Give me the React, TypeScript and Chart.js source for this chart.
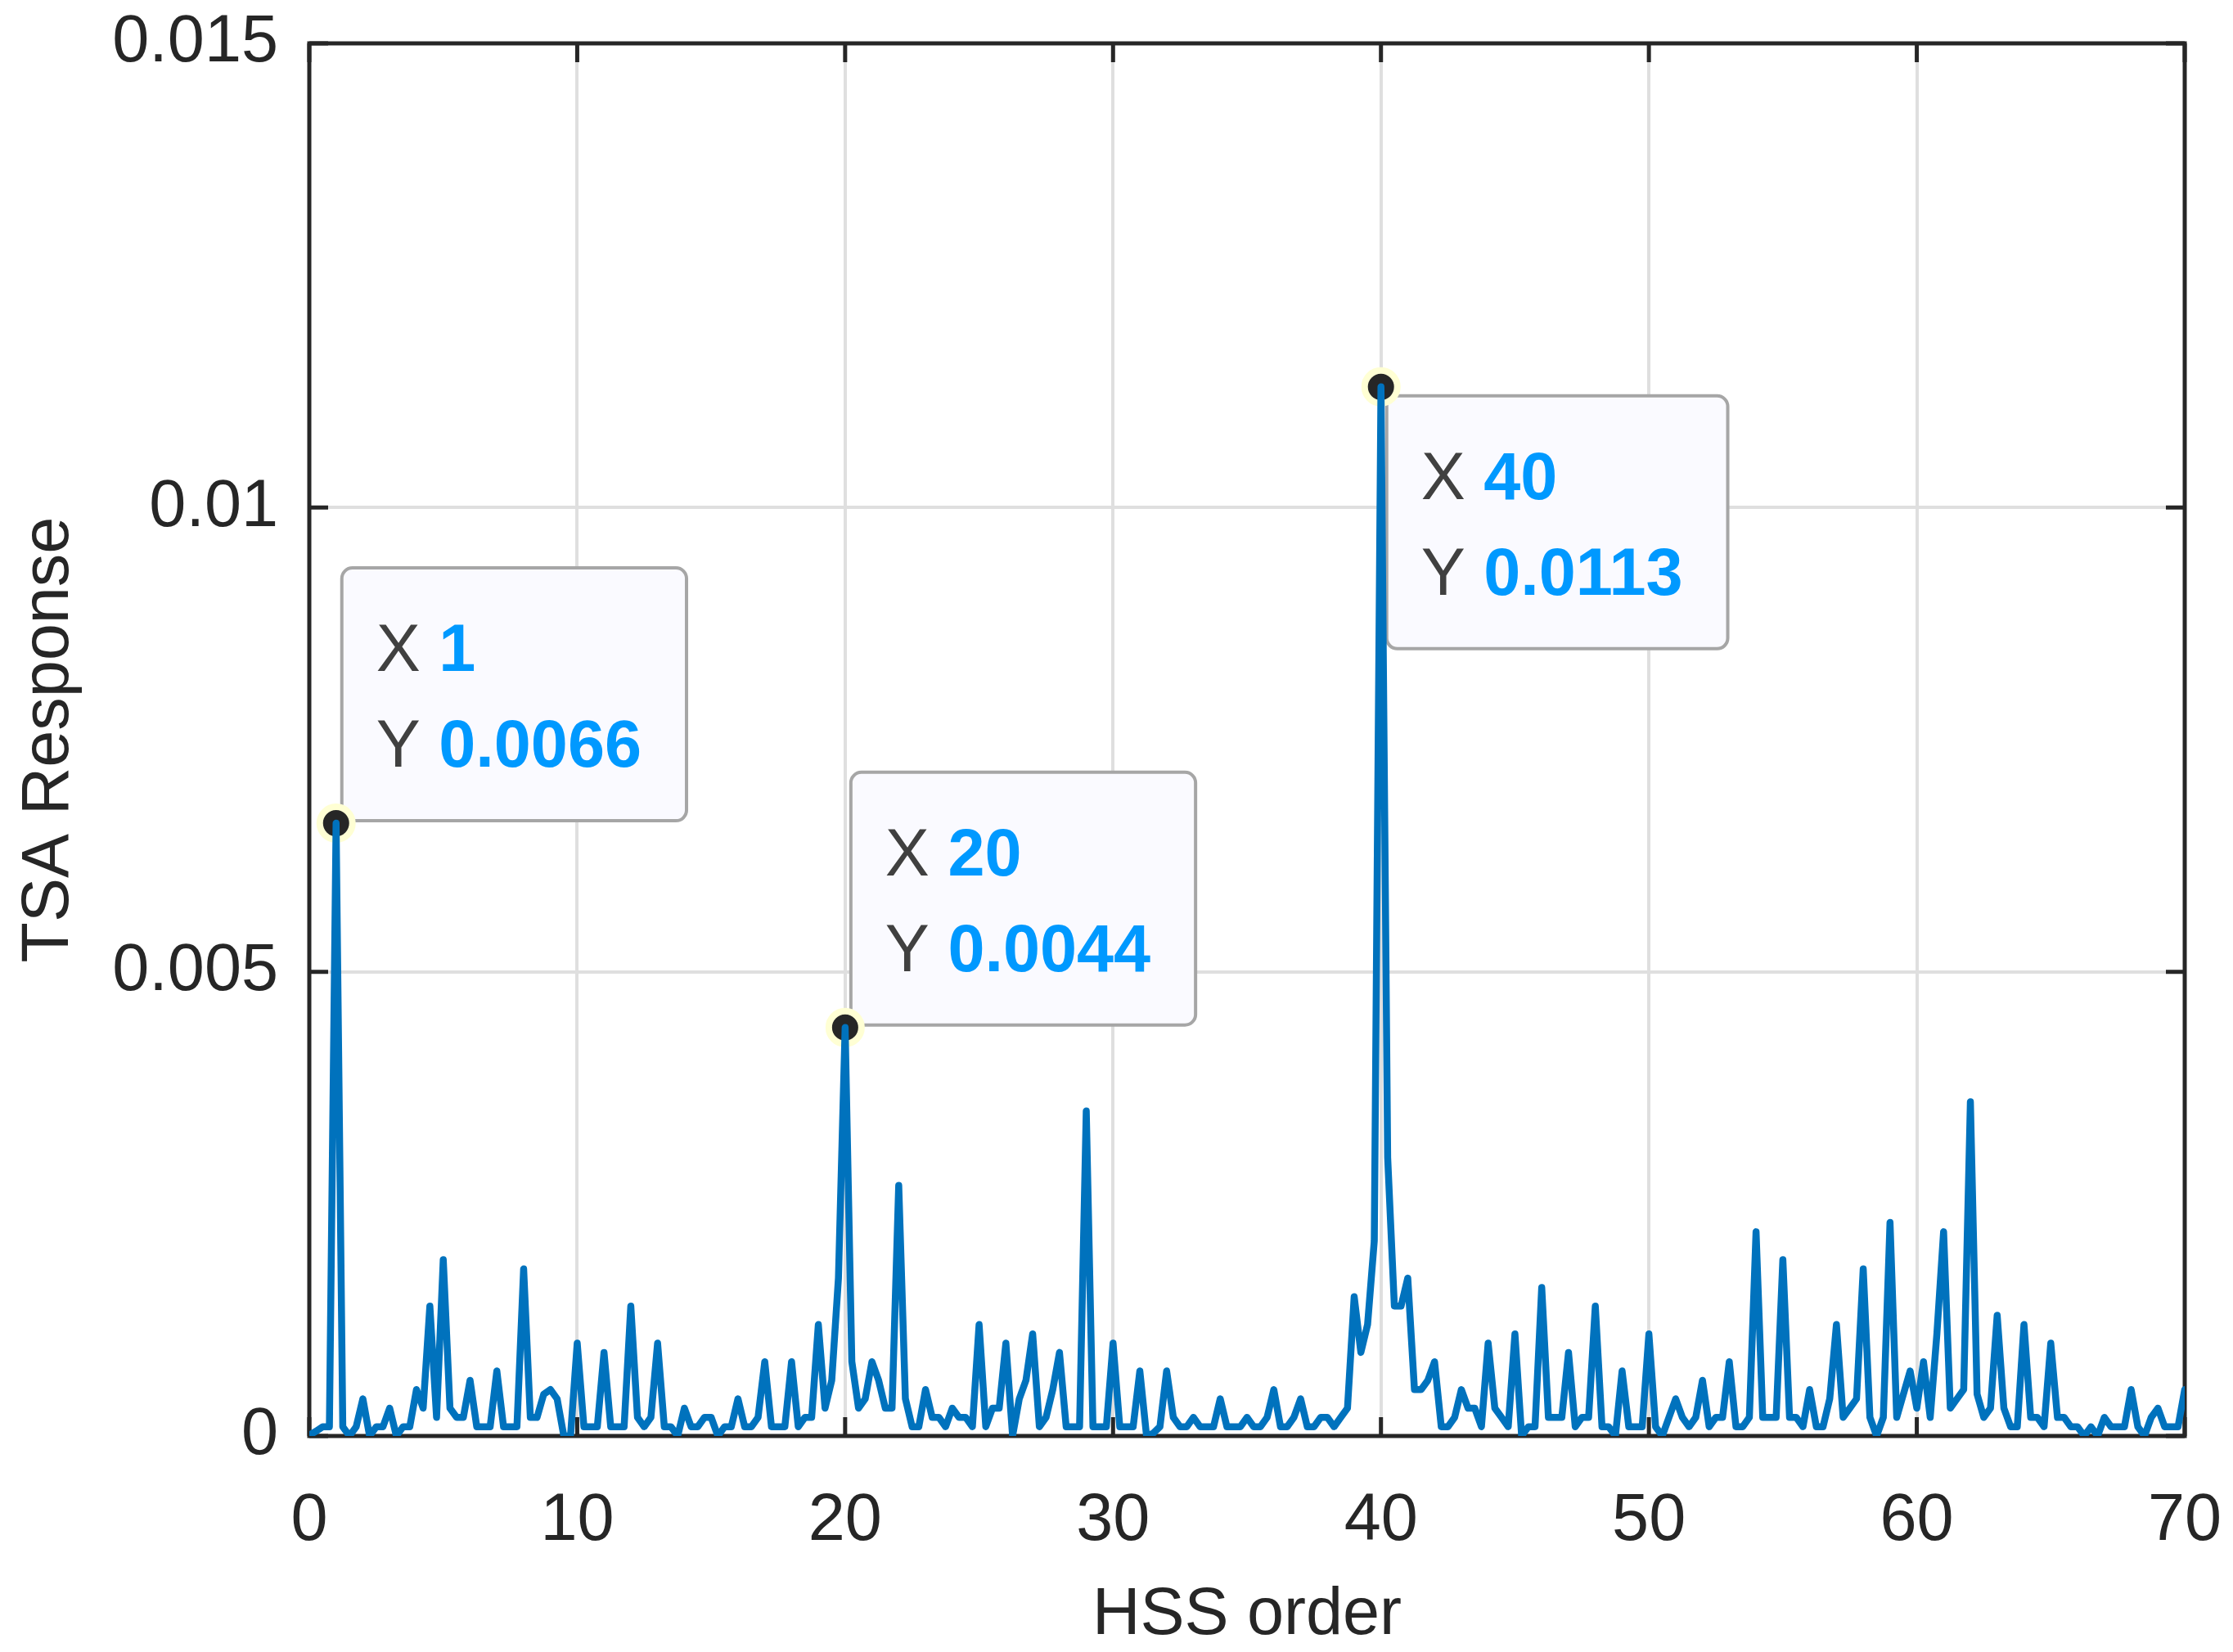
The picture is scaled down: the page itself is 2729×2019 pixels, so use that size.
import React, { useEffect, useRef } from 'react';
import { Chart, registerables } from 'chart.js';

Chart.register(...registerables);

const W = 2729;
const H = 2019;
const FONT = "'Liberation Sans', Arial, Helvetica, sans-serif";

// HSS order sampling step of the spectrum
const ORDER_STEP = 0.25;

// TSA response, one value per 0.25 order from 0 to 70
const TSA_RESPONSE = [
  0.00001, 0.00005, 0.0001, 0.0001, // 0
  0.0066, 0.0001, 0.0, 0.0001, // 1
  0.0004, 0.0, 0.0001, 0.0001, // 2
  0.0003, 0.0, 0.0001, 0.0001, // 3
  0.0005, 0.0003, 0.0014, 0.0002, // 4
  0.0019, 0.0003, 0.0002, 0.0002, // 5
  0.0006, 0.0001, 0.0001, 0.0001, // 6
  0.0007, 0.0001, 0.0001, 0.0001, // 7
  0.0018, 0.0002, 0.0002, 0.00045, // 8
  0.0005, 0.0004, 0.0, 0.0, // 9
  0.001, 0.0001, 0.0001, 0.0001, // 10
  0.0009, 0.0001, 0.0001, 0.0001, // 11
  0.0014, 0.0002, 0.0001, 0.0002, // 12
  0.001, 0.0001, 0.0001, 0.0, // 13
  0.0003, 0.0001, 0.0001, 0.0002, // 14
  0.0002, 0.0, 0.0001, 0.0001, // 15
  0.0004, 0.0001, 0.0001, 0.0002, // 16
  0.0008, 0.0001, 0.0001, 0.0001, // 17
  0.0008, 0.0001, 0.0002, 0.0002, // 18
  0.0012, 0.0003, 0.0006, 0.0017, // 19
  0.0044, 0.0008, 0.0003, 0.0004, // 20
  0.0008, 0.0006, 0.0003, 0.0003, // 21
  0.0027, 0.0004, 0.0001, 0.0001, // 22
  0.0005, 0.0002, 0.0002, 0.0001, // 23
  0.0003, 0.0002, 0.0002, 0.0001, // 24
  0.0012, 0.0001, 0.0003, 0.0003, // 25
  0.001, 0.0, 0.0004, 0.0006, // 26
  0.0011, 0.0001, 0.0002, 0.0005, // 27
  0.0009, 0.0001, 0.0001, 0.0001, // 28
  0.0035, 0.0001, 0.0001, 0.0001, // 29
  0.001, 0.0001, 0.0001, 0.0001, // 30
  0.0007, 0.0, 0.00003, 0.0001, // 31
  0.0007, 0.0002, 0.0001, 0.0001, // 32
  0.0002, 0.0001, 0.0001, 0.0001, // 33
  0.0004, 0.0001, 0.0001, 0.0001, // 34
  0.0002, 0.0001, 0.0001, 0.0002, // 35
  0.0005, 0.0001, 0.0001, 0.0002, // 36
  0.0004, 0.0001, 0.0001, 0.0002, // 37
  0.0002, 0.0001, 0.0002, 0.0003, // 38
  0.0015, 0.0009, 0.0012, 0.0021, // 39
  0.0113, 0.003, 0.0014, 0.0014, // 40
  0.0017, 0.0005, 0.0005, 0.0006, // 41
  0.0008, 0.0001, 0.0001, 0.0002, // 42
  0.0005, 0.0003, 0.0003, 0.0001, // 43
  0.001, 0.0003, 0.0002, 0.0001, // 44
  0.0011, 0.0, 0.0001, 0.0001, // 45
  0.0016, 0.0002, 0.0002, 0.0002, // 46
  0.0009, 0.0001, 0.0002, 0.0002, // 47
  0.0014, 0.0001, 0.0001, 0.0, // 48
  0.0007, 0.0001, 0.0001, 0.0001, // 49
  0.0011, 0.0001, 0.0, 0.0002, // 50
  0.0004, 0.0002, 0.0001, 0.0002, // 51
  0.0006, 0.0001, 0.0002, 0.0002, // 52
  0.0008, 0.0001, 0.0001, 0.0002, // 53
  0.0022, 0.0002, 0.0002, 0.0002, // 54
  0.0019, 0.0002, 0.0002, 0.0001, // 55
  0.0005, 0.0001, 0.0001, 0.0004, // 56
  0.0012, 0.0002, 0.0003, 0.0004, // 57
  0.0018, 0.0002, 0.0, 0.0002, // 58
  0.0023, 0.0002, 0.00045, 0.0007, // 59
  0.0003, 0.0008, 0.0002, 0.0011, // 60
  0.0022, 0.0003, 0.0004, 0.0005, // 61
  0.0036, 0.00045, 0.0002, 0.0003, // 62
  0.0013, 0.0003, 0.0001, 0.0001, // 63
  0.0012, 0.0002, 0.0002, 0.0001, // 64
  0.001, 0.0002, 0.0002, 0.0001, // 65
  0.0001, 0.0, 0.0001, 0.0, // 66
  0.0002, 0.0001, 0.0001, 0.0001, // 67
  0.0005, 0.0001, 0.0, 0.0002, // 68
  0.0003, 0.0001, 0.0001, 0.0001, // 69
  0.0005, // 70
];

const X_TICKS = [0, 10, 20, 30, 40, 50, 60, 70];
const Y_TICKS = [0, 0.005, 0.01, 0.015];
const Y_TICK_LABELS = ['0', '0.005', '0.01', '0.015'];

// Data tips
const TIP_X = [1, 20, 40];
const TIP_Y = [0.0066, 0.0044, 0.0113];
const TIP_X_TEXT = ['1', '20', '40'];
const TIP_Y_TEXT = ['0.0066', '0.0044', '0.0113'];
const TIP_PLACE = ['above', 'above', 'below'];

const X_TITLE = 'HSS order';
const Y_TITLE = 'TSA Response';

const AXIS_COLOR = '#262626';
const LINE_COLOR = '#0072BD';

function roundRect(ctx: CanvasRenderingContext2D, x: number, y: number, w: number, h: number, r: number) {
  ctx.beginPath();
  ctx.moveTo(x + r, y);
  ctx.lineTo(x + w - r, y);
  ctx.arcTo(x + w, y, x + w, y + r, r);
  ctx.lineTo(x + w, y + h - r);
  ctx.arcTo(x + w, y + h, x + w - r, y + h, r);
  ctx.lineTo(x + r, y + h);
  ctx.arcTo(x, y + h, x, y + h - r, r);
  ctx.lineTo(x, y + r);
  ctx.arcTo(x, y, x + r, y, r);
  ctx.closePath();
}

const framePlugin = {
  id: 'matlabFrame',
  beforeDatasetsDraw(chart: any) {
    const { ctx, chartArea } = chart;
    const xs = chart.scales.x;
    const ys = chart.scales.y;
    const { left, right, top, bottom } = chartArea;
    const tl = 23;
    ctx.save();
    ctx.strokeStyle = AXIS_COLOR;
    ctx.lineWidth = 5;
    ctx.lineCap = 'butt';
    ctx.beginPath();
    X_TICKS.forEach((v) => {
      const px = xs.getPixelForValue(v);
      ctx.moveTo(px, bottom);
      ctx.lineTo(px, bottom - tl);
      ctx.moveTo(px, top);
      ctx.lineTo(px, top + tl);
    });
    Y_TICKS.forEach((v) => {
      const py = ys.getPixelForValue(v);
      ctx.moveTo(left, py);
      ctx.lineTo(left + tl, py);
      ctx.moveTo(right, py);
      ctx.lineTo(right - tl, py);
    });
    ctx.stroke();
    ctx.lineJoin = 'miter';
    ctx.strokeRect(left, top, right - left, bottom - top);
    ctx.restore();
  },
  beforeDatasetDraw(chart: any, args: any) {
    if (args.index !== 1) return;
    const { ctx } = chart;
    const xs = chart.scales.x;
    const ys = chart.scales.y;
    ctx.save();
    TIP_X.forEach((tx, i) => {
      const px = xs.getPixelForValue(tx);
      const py = ys.getPixelForValue(TIP_Y[i]);
      const normal = `81px ${FONT}`;
      const bold = `bold 81px ${FONT}`;
      ctx.font = normal;
      const wX = ctx.measureText('X ').width;
      const wY = ctx.measureText('Y ').width;
      ctx.font = bold;
      const wXv = ctx.measureText(TIP_X_TEXT[i]).width;
      const wYv = ctx.measureText(TIP_Y_TEXT[i]).width;
      const lineW = Math.max(wX + wXv, wY + wYv);
      const bw = 42 + lineW + 55;
      const bh = 309;
      const bx = px + 7;
      const by = TIP_PLACE[i] === 'above' ? py - 3 - bh : py + 11;
      roundRect(ctx, bx, by, bw, bh, 13);
      ctx.fillStyle = '#FAFAFF';
      ctx.fill();
      ctx.lineWidth = 4;
      ctx.strokeStyle = '#A6A6A6';
      ctx.stroke();
      ctx.textBaseline = 'alphabetic';
      ctx.textAlign = 'left';
      const tx0 = bx + 42;
      ctx.font = normal;
      ctx.fillStyle = '#404040';
      ctx.fillText('X ', tx0, by + 126);
      ctx.fillText('Y ', tx0, by + 243);
      ctx.font = bold;
      ctx.fillStyle = '#0099FF';
      ctx.fillText(TIP_X_TEXT[i], tx0 + wX, by + 126);
      ctx.fillText(TIP_Y_TEXT[i], tx0 + wY, by + 243);
    });
    ctx.restore();
  },
};

export default function App() {
  const ref = useRef<HTMLCanvasElement | null>(null);

  useEffect(() => {
    if (!ref.current) return;
    const linePoints = TSA_RESPONSE.map((v, i) => ({ x: i * ORDER_STEP, y: v }));
    const tipPoints = TIP_X.map((x, i) => ({ x, y: TIP_Y[i] }));

    const chart = new Chart(ref.current, {
      type: 'line',
      data: {
        datasets: [
          {
            type: 'line',
            data: linePoints,
            borderColor: LINE_COLOR,
            borderWidth: 8.5,
            pointRadius: 0,
            tension: 0,
            fill: false,
            borderJoinStyle: 'round',
            borderCapStyle: 'round',
          } as any,
          {
            type: 'scatter',
            data: tipPoints,
            pointRadius: 20,
            pointBackgroundColor: '#262626',
            pointBorderColor: 'rgb(255,255,212)',
            pointBorderWidth: 8,
            showLine: false,
            clip: false,
          } as any,
        ],
      },
      options: {
        animation: false,
        responsive: false,
        devicePixelRatio: 1,
        events: [],
        layout: { padding: { top: 53, right: 59, bottom: 0, left: 0 } },
        plugins: {
          legend: { display: false },
          tooltip: { enabled: false },
        },
        scales: {
          x: {
            type: 'linear',
            min: 0,
            max: 70,
            afterBuildTicks: (s: any) => {
              s.ticks = X_TICKS.map((v) => ({ value: v }));
            },
            afterFit: (s: any) => {
              s.height = 264;
              s.paddingLeft = 0;
              s.paddingRight = 0;
            },
            ticks: {
              padding: 56,
              color: AXIS_COLOR,
              font: { family: FONT, size: 81 },
              maxRotation: 0,
              autoSkip: false,
              callback: (v: any) => String(v),
            },
            grid: { color: '#DFDFDF', lineWidth: 4, drawTicks: false },
            border: { display: false },
            title: {
              display: true,
              text: X_TITLE,
              color: AXIS_COLOR,
              font: { family: FONT, size: 81, lineHeight: 1 },
              padding: { top: 0, bottom: 4 },
            },
          },
          y: {
            type: 'linear',
            min: 0,
            max: 0.015,
            afterBuildTicks: (s: any) => {
              s.ticks = Y_TICKS.map((v) => ({ value: v }));
            },
            afterFit: (s: any) => {
              s.width = 378;
              s.paddingTop = 0;
              s.paddingBottom = 0;
            },
            ticks: {
              padding: 38,
              color: AXIS_COLOR,
              font: { family: FONT, size: 81 },
              autoSkip: false,
              callback: (v: any) => {
                const idx = Y_TICKS.findIndex((t) => Math.abs(t - v) < 1e-9);
                return idx >= 0 ? Y_TICK_LABELS[idx] : '';
              },
            },
            grid: { color: '#DFDFDF', lineWidth: 4, drawTicks: false },
            border: { display: false },
            title: {
              display: true,
              text: Y_TITLE,
              color: AXIS_COLOR,
              font: { family: FONT, size: 81, lineHeight: 1 },
              padding: { top: 20, bottom: 0 },
            },
          },
        },
      },
      plugins: [framePlugin],
    });
    return () => chart.destroy();
  }, []);

  return (
    <div style={{ position: 'absolute', left: 0, top: 0, width: W, height: H, background: '#fff' }}>
      <canvas ref={ref} width={W} height={H} style={{ width: W, height: H, display: 'block' }} />
    </div>
  );
}
